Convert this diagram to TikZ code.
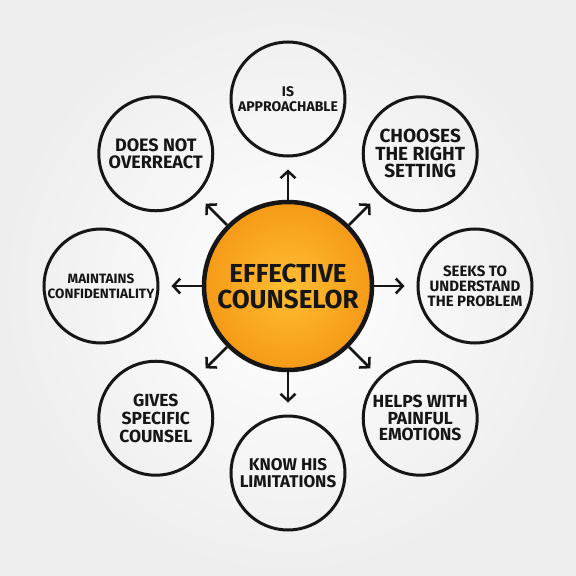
\documentclass[tikz,border=0pt]{standalone}
\usepackage{fontspec}
\setmainfont{Fira Sans}
\usetikzlibrary{arrows.meta}
\definecolor{ecorange}{HTML}{F59A17}
\definecolor{ecyellow}{HTML}{FFBE33}
\definecolor{ecink}{HTML}{161616}
\definecolor{ecbg}{HTML}{EEEEEE}

\begin{document}
\begin{tikzpicture}[x=1pt, y=1pt,
  hub/.style={circle, draw=ecink, line width=4.5pt, minimum size=168pt, inner sep=0pt,
              inner color=ecyellow, outer color=ecorange, align=center, text=ecink,
              font=\fontsize{26}{26}\selectfont\bfseries},
  idea/.style={circle, draw=ecink, line width=3pt, minimum size=114pt, inner sep=0pt,
               align=center, text=ecink, font=\fontsize{14}{15}\selectfont\bfseries},
  arr/.style={-{Straight Barb[length=7pt,width=15pt]}, line width=2.5pt, ecink, shorten >=12pt}
]
% background
\useasboundingbox (-288,-290) rectangle (288,286);
\shade[inner color=white, outer color=ecbg] (-288,-290) rectangle (288,286);

\node[hub] (hub) at (0,0) {EFFECTIVE\\COUNSELOR};

\node[idea] (approach) at (90:187) {IS\\APPROACHABLE};
\node[idea, font=\fontsize{19}{17.5}\selectfont\bfseries] (setting) at (45:187) {CHOOSES\\THE RIGHT\\SETTING};
\node[idea, font=\fontsize{15}{15}\selectfont\bfseries] (problem) at (0:187) {SEEKS TO\\UNDERSTAND\\THE PROBLEM};
\node[idea, font=\fontsize{17.5}{16.5}\selectfont\bfseries] (painful) at (-45:187) {HELPS WITH\\PAINFUL\\EMOTIONS};
\node[idea, font=\fontsize{17}{16.5}\selectfont\bfseries] (limits) at (-90:187) {KNOW HIS\\LIMITATIONS};
\node[idea, font=\fontsize{17.5}{18}\selectfont\bfseries] (counsel) at (-135:187) {GIVES\\SPECIFIC\\COUNSEL};
\node[idea, font=\fontsize{13.5}{15}\selectfont\bfseries] (secret) at (180:187) {MAINTAINS\\CONFIDENTIALITY};
\node[idea, font=\fontsize{18}{16.5}\selectfont\bfseries] (calm) at (135:187) {DOES NOT\\OVERREACT};

\draw[arr] (hub) -- (approach);
\draw[arr] (hub) -- (setting);
\draw[arr] (hub) -- (problem);
\draw[arr] (hub) -- (painful);
\draw[arr] (hub) -- (limits);
\draw[arr] (hub) -- (counsel);
\draw[arr] (hub) -- (secret);
\draw[arr] (hub) -- (calm);
\end{tikzpicture}
\end{document}
